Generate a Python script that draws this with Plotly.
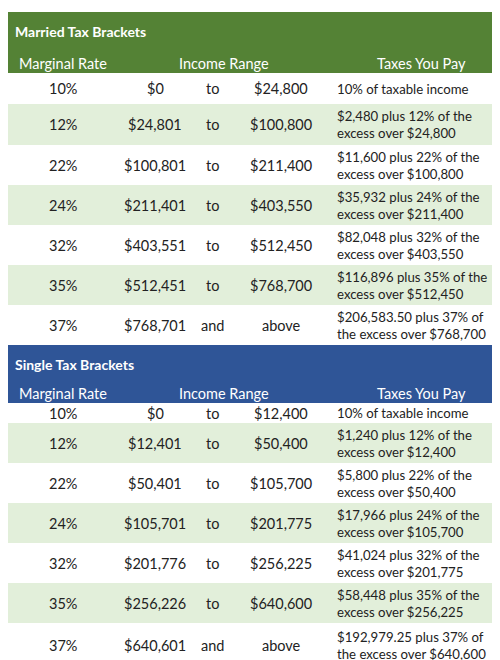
import plotly.graph_objects as go

rates = ["10%", "12%", "22%", "24%", "32%", "35%", "37%"]
married_from = ["$0", "$24,801", "$100,801", "$211,401", "$403,551", "$512,451", "$768,701"]
married_to = ["$24,800", "$100,800", "$211,400", "$403,550", "$512,450", "$768,700", "above"]
married_tax = ["10% of taxable income",
               "$2,480 plus 12% of the<br>excess over $24,800",
               "$11,600 plus 22% of the<br>excess over $100,800",
               "$35,932 plus 24% of the<br>excess over $211,400",
               "$82,048 plus 32% of the<br>excess over $403,550",
               "$116,896 plus 35% of the<br>excess over $512,450",
               "$206,583.50 plus 37% of<br>the excess over $768,700"]
single_from = ["$0", "$12,401", "$50,401", "$105,701", "$201,776", "$256,226", "$640,601"]
single_to = ["$12,400", "$50,400", "$105,700", "$201,775", "$256,225", "$640,600", "above"]
single_tax = ["10% of taxable income",
              "$1,240 plus 12% of the<br>excess over $12,400",
              "$5,800 plus 22% of the<br>excess over $50,400",
              "$17,966 plus 24% of the<br>excess over $105,700",
              "$41,024 plus 32% of the<br>excess over $201,775",
              "$58,448 plus 35% of the<br>excess over $256,225",
              "$192,979.25 plus 37% of<br>the excess over $640,600"]
headers = ["Marginal Rate", "Income Range", "Taxes You Pay"]

FONT = "Lato"
shapes, anns = [], []

def block(title, color, top, hdr_end, row_edges, frm, to, tax):
    shapes.append(dict(type="rect", x0=0, x1=500, y0=top, y1=hdr_end, fillcolor=color, line_width=0, layer="below"))
    anns.append(dict(x=5, y=top + 19, text="<b>" + title + "</b>", xanchor="left", showarrow=False,
                     font=dict(color="white", size=14, family=FONT)))
    hy = hdr_end - 10
    for x, h in zip([55, 216, 413], headers):
        anns.append(dict(x=x, y=hy, text=h, showarrow=False, font=dict(color="white", size=14.5, family=FONT)))
    for i in range(7):
        y0, y1 = row_edges[i], row_edges[i + 1]
        if i % 2 == 1:
            shapes.append(dict(type="rect", x0=0, x1=500, y0=y0, y1=y1, fillcolor="#E2EFDA", line_width=0, layer="below"))
        yc = (y0 + y1) / 2
        mid = "and" if to[i] == "above" else "to"
        for x, t in [(55, rates[i]), (147, frm[i]), (204, mid), (273, to[i])]:
            anns.append(dict(x=x, y=yc, text=t, showarrow=False, font=dict(color="#222", size=14.5, family=FONT)))
        anns.append(dict(x=327, y=yc, text=tax[i], xanchor="left", showarrow=False, align="left",
                         font=dict(color="#222", size=13.2, family=FONT)))

block("Married Tax Brackets", "#548235", 4, 65, [65, 96, 137, 177, 217, 257, 297, 337],
      married_from, married_to, married_tax)
block("Single Tax Brackets", "#2F5597", 337, 395, [395, 415, 455, 495, 535, 575, 615, 660],
      single_from, single_to, single_tax)

fig = go.Figure()
fig.update_layout(width=500, height=660, margin=dict(l=0, r=0, t=0, b=0),
                  plot_bgcolor="white", paper_bgcolor="white",
                  xaxis=dict(range=[0, 500], visible=False, fixedrange=True),
                  yaxis=dict(range=[660, 0], visible=False, fixedrange=True),
                  shapes=shapes, annotations=anns, showlegend=False)
fig.write_html("out.html")
